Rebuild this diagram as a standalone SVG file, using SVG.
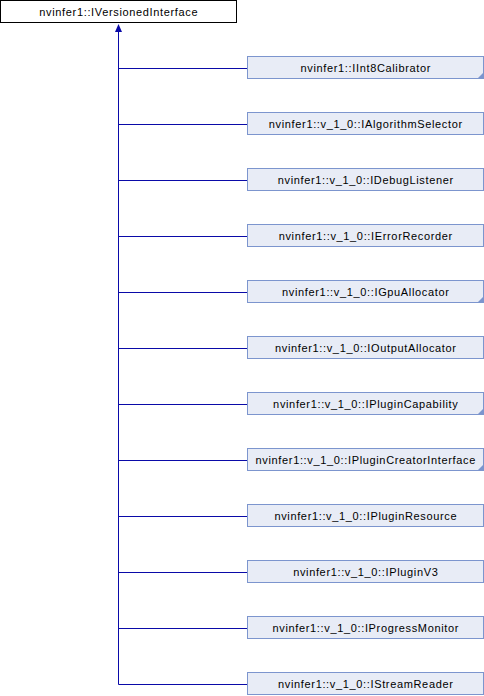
<svg xmlns="http://www.w3.org/2000/svg" width="484" height="696" viewBox="0 0 484 696">
<defs>
<style>
.bg{fill:#ffffff}
.base rect{fill:#ffffff;stroke:#000000;stroke-width:1}
.node rect{fill:#E8ECF6;stroke:#7C95CE;stroke-width:1}
.node path{fill:#7C95CE}
text{font-family:"Liberation Sans",Arial,sans-serif;font-size:11px;letter-spacing:0.65px;fill:#000000;text-anchor:middle}
.conn{fill:none;stroke:#0A0AA8;stroke-width:1}
.arrow{fill:#0A0AA8}
</style>
</defs>
<rect class="bg" x="0" y="0" width="484" height="696"/>
<g id="connectors">
<path class="conn" d="M118.5,30 V684.5 H247.5 M118.5,68.5 H247.5 M118.5,124.5 H247.5 M118.5,180.5 H247.5 M118.5,236.5 H247.5 M118.5,292.5 H247.5 M118.5,348.5 H247.5 M118.5,404.5 H247.5 M118.5,460.5 H247.5 M118.5,516.5 H247.5 M118.5,572.5 H247.5 M118.5,628.5 H247.5"/>
<path class="arrow" d="M118.5,24 L115,32 L122,32 Z"/>
</g>
<g id="IVersionedInterface" class="base"><rect x="0.5" y="0.5" width="236" height="22"/><text x="118.8" y="15.5">nvinfer1::IVersionedInterface</text></g>
<g id="IInt8Calibrator" class="node"><rect x="247.5" y="56.5" width="236" height="22"/><path d="M483,73 L483,78 L478,78 Z"/><text x="365.8" y="71.5">nvinfer1::IInt8Calibrator</text></g>
<g id="IAlgorithmSelector" class="node"><rect x="247.5" y="112.5" width="236" height="22"/><text x="365.8" y="127.5">nvinfer1::v_1_0::IAlgorithmSelector</text></g>
<g id="IDebugListener" class="node"><rect x="247.5" y="168.5" width="236" height="22"/><text x="365.8" y="183.5">nvinfer1::v_1_0::IDebugListener</text></g>
<g id="IErrorRecorder" class="node"><rect x="247.5" y="224.5" width="236" height="22"/><text x="365.8" y="239.5">nvinfer1::v_1_0::IErrorRecorder</text></g>
<g id="IGpuAllocator" class="node"><rect x="247.5" y="280.5" width="236" height="22"/><path d="M483,297 L483,302 L478,302 Z"/><text x="365.8" y="295.5">nvinfer1::v_1_0::IGpuAllocator</text></g>
<g id="IOutputAllocator" class="node"><rect x="247.5" y="336.5" width="236" height="22"/><text x="365.8" y="351.5">nvinfer1::v_1_0::IOutputAllocator</text></g>
<g id="IPluginCapability" class="node"><rect x="247.5" y="392.5" width="236" height="22"/><path d="M483,409 L483,414 L478,414 Z"/><text x="365.8" y="407.5">nvinfer1::v_1_0::IPluginCapability</text></g>
<g id="IPluginCreatorInterface" class="node"><rect x="247.5" y="448.5" width="236" height="22"/><path d="M483,465 L483,470 L478,470 Z"/><text x="365.8" y="463.5">nvinfer1::v_1_0::IPluginCreatorInterface</text></g>
<g id="IPluginResource" class="node"><rect x="247.5" y="504.5" width="236" height="22"/><text x="365.8" y="519.5">nvinfer1::v_1_0::IPluginResource</text></g>
<g id="IPluginV3" class="node"><rect x="247.5" y="560.5" width="236" height="22"/><text x="365.8" y="575.5">nvinfer1::v_1_0::IPluginV3</text></g>
<g id="IProgressMonitor" class="node"><rect x="247.5" y="616.5" width="236" height="22"/><text x="365.8" y="631.5">nvinfer1::v_1_0::IProgressMonitor</text></g>
<g id="IStreamReader" class="node"><rect x="247.5" y="672.5" width="236" height="22"/><text x="365.8" y="687.5">nvinfer1::v_1_0::IStreamReader</text></g>
</svg>
